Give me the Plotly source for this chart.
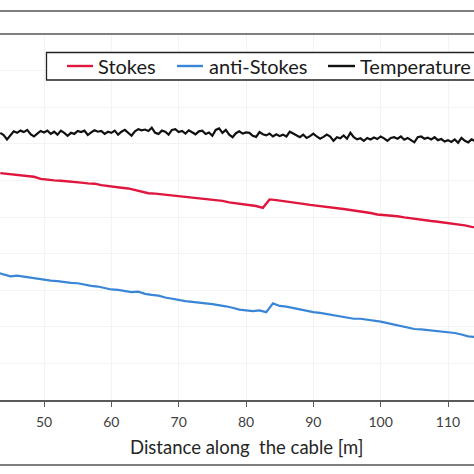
import plotly.graph_objects as go

# ---------------- data (arbitrary intensity units on y) ----------------
temp_start, temp_step = 43.5, 0.5
temperature = [
    7.30, 7.24, 7.12, 7.22, 7.34, 7.30, 7.36, 7.32, 7.38, 7.26,
    7.20, 7.28, 7.35, 7.31, 7.36, 7.27, 7.33, 7.25, 7.36, 7.30,
    7.22, 7.30, 7.27, 7.35, 7.32, 7.36, 7.24, 7.31, 7.37, 7.33,
    7.35, 7.27, 7.33, 7.30, 7.36, 7.25, 7.33, 7.38, 7.29, 7.22,
    7.34, 7.40, 7.37, 7.39, 7.35, 7.44, 7.30, 7.27, 7.36, 7.33,
    7.25, 7.38, 7.40, 7.32, 7.35, 7.28, 7.37, 7.31, 7.26, 7.34,
    7.36, 7.27, 7.31, 7.22, 7.38, 7.42, 7.30, 7.38, 7.25, 7.18,
    7.29, 7.34, 7.28, 7.31, 7.30, 7.22, 7.19, 7.32, 7.26, 7.23,
    7.28, 7.20, 7.26, 7.21, 7.25, 7.20, 7.33, 7.28, 7.24, 7.18,
    7.25, 7.16, 7.21, 7.28, 7.20, 7.14, 7.19, 7.25, 7.20, 7.08,
    7.18, 7.15, 7.23, 7.14, 7.30, 7.18, 7.12, 7.15, 7.08, 7.16,
    7.12, 7.17, 7.13, 7.20, 7.15, 7.08, 7.16, 7.18, 7.14, 7.20,
    7.11, 7.16, 7.10, 7.04, 7.18, 7.20, 7.14, 7.17, 7.12, 7.18,
    7.10, 7.13, 7.06, 7.10, 7.05, 7.12, 7.03, 7.16, 7.08, 7.04,
    7.12, 7.08,
]

stokes_start, stokes_step = 43.5, 1.0
stokes = [
    6.20, 6.18, 6.17, 6.14, 6.13, 6.10, 6.04, 6.01, 6.00, 5.99,
    5.98, 5.96, 5.94, 5.92, 5.91, 5.87, 5.84, 5.81, 5.80, 5.78,
    5.74, 5.70, 5.65, 5.64, 5.62, 5.59, 5.57, 5.55, 5.54, 5.51,
    5.51, 5.48, 5.45, 5.44, 5.40, 5.38, 5.35, 5.32, 5.30, 5.25,
    5.48, 5.46, 5.44, 5.41, 5.38, 5.36, 5.33, 5.31, 5.30, 5.27,
    5.24, 5.22, 5.19, 5.17, 5.13, 5.11, 5.07, 5.06, 5.04, 5.02,
    4.99, 4.96, 4.94, 4.92, 4.89, 4.87, 4.85, 4.83, 4.81, 4.77,
    4.73, 4.71,
]

anti_start, anti_step = 43.0, 1.0
anti_stokes = [
    3.48, 3.43, 3.38, 3.40, 3.37, 3.35, 3.31, 3.28, 3.26, 3.25,
    3.22, 3.20, 3.19, 3.15, 3.12, 3.10, 3.06, 3.02, 3.01, 2.97,
    2.95, 2.96, 2.90, 2.87, 2.85, 2.80, 2.76, 2.72, 2.70, 2.68,
    2.67, 2.64, 2.62, 2.60, 2.56, 2.52, 2.47, 2.45, 2.43, 2.45,
    2.40, 2.64, 2.57, 2.55, 2.51, 2.49, 2.44, 2.40, 2.38, 2.35,
    2.31, 2.27, 2.24, 2.22, 2.22, 2.20, 2.18, 2.14, 2.10, 2.06,
    2.02, 1.98, 1.94, 1.93, 1.91, 1.89, 1.86, 1.86, 1.83, 1.79,
    1.74, 1.72,
]

series_names = ["Stokes", "anti-Stokes", "Temperature"]
series_colors = ["#e0163f", "#3a86d6", "#111111"]

x_tick_values = [50, 60, 70, 80, 90, 100, 110]
x_title = "Distance along\u00a0 the cable [m]"
x_range = [43.46, 113.86]
y_range = [0, 10]

dist_temp = [temp_start + temp_step * i for i in range(len(temperature))]
dist_stokes = [stokes_start + stokes_step * i for i in range(len(stokes))]
dist_anti = [anti_start + anti_step * i for i in range(len(anti_stokes))]

FONT = "Lato"
W, H = 474, 474
T, B = 34, 74
PH = H - T - B  # plot height in px


def px_x(p):
    return p / W


def px_y(p):
    return (H - B - p) / PH


fig = go.Figure()
fig.add_trace(go.Scatter(x=dist_stokes, y=stokes, mode="lines", name=series_names[0],
                         line=dict(color=series_colors[0], width=2.4)))
fig.add_trace(go.Scatter(x=dist_anti, y=anti_stokes, mode="lines", name=series_names[1],
                         line=dict(color=series_colors[1], width=2.2)))
fig.add_trace(go.Scatter(x=dist_temp, y=temperature, mode="lines", name=series_names[2],
                         line=dict(color=series_colors[2], width=2.2)))

# legend drawn as a box with sample lines and labels (the box runs off the right edge)
legend_y = 66
legend_line_x = [(67, 93), (177, 203), (328, 355)]
legend_text_x = [96, 207, 358]

shapes = [
    dict(type="line", xref="paper", yref="paper", x0=0, x1=1, y0=px_y(11), y1=px_y(11),
         line=dict(color="#555555", width=1.5)),
    dict(type="line", xref="paper", yref="paper", x0=0, x1=1, y0=1, y1=1,
         line=dict(color="#555555", width=1.5)),
    dict(type="line", xref="paper", yref="paper", x0=0, x1=1, y0=px_y(465), y1=px_y(465),
         line=dict(color="#555555", width=1.5)),
    dict(type="rect", xref="paper", yref="paper", x0=px_x(46.5), x1=px_x(490),
         y0=px_y(80), y1=px_y(52.5), line=dict(color="#222222", width=1.3),
         fillcolor="white", layer="above"),
]
annotations = []
for (x0, x1), tx, name, col in zip(legend_line_x, legend_text_x, series_names, series_colors):
    shapes.append(dict(type="line", xref="paper", yref="paper", x0=px_x(x0), x1=px_x(x1),
                       y0=px_y(legend_y), y1=px_y(legend_y), layer="above",
                       line=dict(color=col, width=2.4)))
    annotations.append(dict(xref="paper", yref="paper", x=px_x(tx), y=px_y(legend_y),
                            xanchor="left", yanchor="middle", showarrow=False, text=name,
                            font=dict(family=FONT, size=20, color="#1a1a1a")))

# x-axis title (centred on the original, wider plot, so slightly right of centre here)
annotations.append(dict(xref="paper", yref="paper", x=px_x(246), y=px_y(447),
                        xanchor="center", yanchor="middle", showarrow=False, text=x_title,
                        font=dict(family=FONT, size=18.5, color="#262626")))

fig.update_layout(
    width=W, height=H, autosize=False,
    margin=dict(l=0, r=0, t=T, b=B, pad=0),
    paper_bgcolor="white", plot_bgcolor="white",
    font=dict(family=FONT, color="#262626"),
    showlegend=False,
    xaxis=dict(range=x_range, tickvals=x_tick_values, showgrid=True, gridcolor="#f3f3f3",
               gridwidth=1, showline=True, linecolor="#595959", linewidth=1.5,
               ticks="outside", ticklen=5, tickcolor="#595959", tickwidth=1.2,
               ticklabelstandoff=3,
               tickfont=dict(size=14, color="#404040"), zeroline=False),
    yaxis=dict(range=y_range, dtick=1, showgrid=True, gridcolor="#f3f3f3", gridwidth=1,
               showticklabels=False, zeroline=False, showline=False, ticks=""),
    shapes=shapes,
    annotations=annotations,
)

fig.write_html("out.html")
